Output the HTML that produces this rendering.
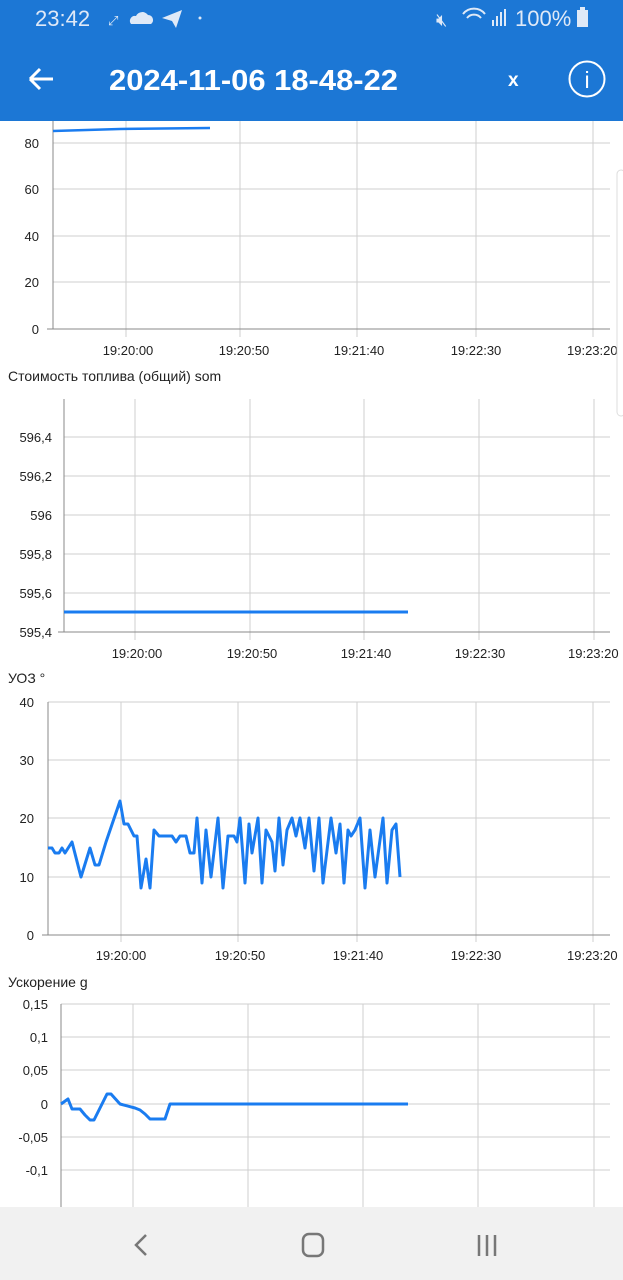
<!DOCTYPE html>
<html><head><meta charset="utf-8"><style>
html,body{margin:0;padding:0;width:623px;height:1280px;overflow:hidden;background:#fff;font-family:"Liberation Sans",sans-serif}
svg{display:block}
</style></head><body>
<svg width="623" height="1280" viewBox="0 0 623 1280" xmlns="http://www.w3.org/2000/svg" font-family="Liberation Sans, sans-serif">
<rect x="0" y="0" width="623" height="121" fill="#1c77d5"/>
<text x="35" y="26" fill="#dfe9f7" font-size="22">23:42</text>
<text x="108" y="25" fill="#dfe9f7" font-size="13">⤢</text>
<path d="M131 24 h20 a5 5 0 0 0 -3 -9 a7 7 0 0 0 -12 1 a5 5 0 0 0 -5 8z" fill="#dfe9f7"/>
<path d="M162 18 L182 10 L176 28 L172 21z" fill="#dfe9f7"/>
<circle cx="200" cy="18" r="1.5" fill="#dfe9f7"/>
<text x="436" y="26" fill="#dfe9f7" font-size="18">🔇︎</text>
<path d="M463 14 a14 14 0 0 1 22 0 M467 18 a9 9 0 0 1 14 0" stroke="#dfe9f7" stroke-width="2" fill="none"/>
<rect x="492" y="20" width="2" height="6" fill="#dfe9f7"/><rect x="496" y="16" width="2" height="10" fill="#dfe9f7"/><rect x="500" y="12" width="2" height="14" fill="#dfe9f7"/><rect x="504" y="9" width="2" height="17" fill="#dfe9f7"/>
<text x="515" y="26" fill="#dfe9f7" font-size="22">100%</text>
<rect x="577" y="10" width="11" height="17" fill="#dfe9f7"/><rect x="580" y="7" width="5" height="3" fill="#dfe9f7"/>
<path d="M30 79 H53 M30 79 L40 69 M30 79 L40 89" stroke="#fff" stroke-width="3" fill="none"/>
<text x="109" y="90" fill="#fff" font-size="29" font-weight="bold" textLength="289" lengthAdjust="spacingAndGlyphs">2024-11-06 18-48-22</text>
<text x="508" y="86" fill="#fff" font-size="19" font-weight="bold">x</text>
<circle cx="587" cy="79" r="17.5" stroke="#fff" stroke-width="2" fill="none"/>
<text x="587" y="88" fill="#fff" font-size="23" text-anchor="middle">i</text>

<g font-size="13" fill="#222">
<g stroke="#cfcfcf" stroke-width="1">
<line x1="53" y1="143" x2="610" y2="143"/><line x1="53" y1="189" x2="610" y2="189"/><line x1="53" y1="236" x2="610" y2="236"/><line x1="53" y1="282" x2="610" y2="282"/>
<line x1="126" y1="121" x2="126" y2="337"/><line x1="240" y1="121" x2="240" y2="337"/><line x1="357" y1="121" x2="357" y2="337"/><line x1="476" y1="121" x2="476" y2="337"/><line x1="593" y1="121" x2="593" y2="337"/>
</g>
<line x1="53" y1="121" x2="53" y2="329" stroke="#888"/><line x1="47" y1="329" x2="610" y2="329" stroke="#888"/>
<text x="39" y="148" text-anchor="end">80</text><text x="39" y="194" text-anchor="end">60</text><text x="39" y="241" text-anchor="end">40</text><text x="39" y="287" text-anchor="end">20</text><text x="39" y="334" text-anchor="end">0</text>
<text x="128" y="355" text-anchor="middle">19:20:00</text><text x="244" y="355" text-anchor="middle">19:20:50</text><text x="359" y="355" text-anchor="middle">19:21:40</text><text x="476" y="355" text-anchor="middle">19:22:30</text><text x="567" y="355">19:23:20</text>
<path d="M53 131 L120 129 L210 128" stroke="#1a7cf0" stroke-width="2.5" fill="none"/>

<text x="8" y="381" font-size="14">Стоимость топлива (общий)  som</text>
<g stroke="#cfcfcf">
<line x1="64" y1="437" x2="610" y2="437"/><line x1="64" y1="476" x2="610" y2="476"/><line x1="64" y1="515" x2="610" y2="515"/><line x1="64" y1="554" x2="610" y2="554"/><line x1="64" y1="593" x2="610" y2="593"/>
<line x1="135" y1="399" x2="135" y2="640"/><line x1="250" y1="399" x2="250" y2="640"/><line x1="364" y1="399" x2="364" y2="640"/><line x1="479" y1="399" x2="479" y2="640"/><line x1="594" y1="399" x2="594" y2="640"/>
</g>
<line x1="64" y1="399" x2="64" y2="632" stroke="#888"/><line x1="58" y1="632" x2="610" y2="632" stroke="#888"/>
<text x="52" y="442" text-anchor="end">596,4</text><text x="52" y="481" text-anchor="end">596,2</text><text x="52" y="520" text-anchor="end">596</text><text x="52" y="559" text-anchor="end">595,8</text><text x="52" y="598" text-anchor="end">595,6</text><text x="52" y="637" text-anchor="end">595,4</text>
<text x="137" y="658" text-anchor="middle">19:20:00</text><text x="252" y="658" text-anchor="middle">19:20:50</text><text x="366" y="658" text-anchor="middle">19:21:40</text><text x="480" y="658" text-anchor="middle">19:22:30</text><text x="568" y="658">19:23:20</text>
<line x1="64" y1="612" x2="408" y2="612" stroke="#1a7cf0" stroke-width="3"/>

<text x="8" y="683" font-size="14">УОЗ  °</text>
<g stroke="#cfcfcf">
<line x1="48" y1="702" x2="610" y2="702"/><line x1="48" y1="760" x2="610" y2="760"/><line x1="48" y1="818" x2="610" y2="818"/><line x1="48" y1="877" x2="610" y2="877"/>
<line x1="121" y1="702" x2="121" y2="942"/><line x1="238" y1="702" x2="238" y2="942"/><line x1="357" y1="702" x2="357" y2="942"/><line x1="476" y1="702" x2="476" y2="942"/><line x1="593" y1="702" x2="593" y2="942"/>
</g>
<line x1="48" y1="702" x2="48" y2="935" stroke="#888"/><line x1="42" y1="935" x2="610" y2="935" stroke="#888"/>
<text x="34" y="707" text-anchor="end">40</text><text x="34" y="765" text-anchor="end">30</text><text x="34" y="823" text-anchor="end">20</text><text x="34" y="882" text-anchor="end">10</text><text x="34" y="940" text-anchor="end">0</text>
<text x="121" y="960" text-anchor="middle">19:20:00</text><text x="240" y="960" text-anchor="middle">19:20:50</text><text x="358" y="960" text-anchor="middle">19:21:40</text><text x="476" y="960" text-anchor="middle">19:22:30</text><text x="567" y="960">19:23:20</text>
<polyline fill="none" stroke="#1a7cf0" stroke-width="3" stroke-linejoin="round" points="48,848 52,848 55,853 59,853 62,848 65,853 72,842 81,877 90,848 95,865 99,865 106,842 120,801 124,824 128,824 134,836 137,836 141,888 146,859 150,888 154,830 159,836 172,836 176,842 180,836 186,836 190,853 194,853 197,818 202,883 206,830 211,877 218,818 223,888 228,836 234,836 237,842 240,818 245,883 249,824 252,853 258,818 262,883 266,830 272,842 275,871 279,818 283,865 287,830 292,818 296,836 300,818 305,848 309,818 314,871 319,818 323,883 331,818 336,853 340,824 344,883 348,830 351,836 355,830 360,818 365,888 370,830 375,877 383,818 387,883 392,830 396,824 400,877"/>

<text x="8" y="987" font-size="14">Ускорение  g</text>
<g stroke="#cfcfcf">
<line x1="61" y1="1004" x2="610" y2="1004"/><line x1="61" y1="1037" x2="610" y2="1037"/><line x1="61" y1="1070" x2="610" y2="1070"/><line x1="61" y1="1104" x2="610" y2="1104"/><line x1="61" y1="1137" x2="610" y2="1137"/><line x1="61" y1="1170" x2="610" y2="1170"/>
<line x1="133" y1="1004" x2="133" y2="1207"/><line x1="248" y1="1004" x2="248" y2="1207"/><line x1="363" y1="1004" x2="363" y2="1207"/><line x1="478" y1="1004" x2="478" y2="1207"/><line x1="594" y1="1004" x2="594" y2="1207"/>
</g>
<line x1="61" y1="1004" x2="61" y2="1207" stroke="#888"/>
<text x="48" y="1009" text-anchor="end">0,15</text><text x="48" y="1042" text-anchor="end">0,1</text><text x="48" y="1075" text-anchor="end">0,05</text><text x="48" y="1109" text-anchor="end">0</text><text x="48" y="1142" text-anchor="end">-0,05</text><text x="48" y="1175" text-anchor="end">-0,1</text>
<polyline fill="none" stroke="#1a7cf0" stroke-width="3" stroke-linejoin="round" points="61,1104 68,1099 72,1109 80,1109 85,1115 90,1120 94,1120 100,1108 107,1094 111,1094 120,1104 135,1108 140,1110 145,1114 150,1119 160,1119 165,1119 170,1104 408,1104"/>
</g>
<rect x="617" y="170" width="8" height="246" rx="4" fill="none" stroke="#ddd"/>
<rect x="0" y="1207" width="623" height="73" fill="#f1f1f1"/>
<path d="M146 1235 L136 1245 L146 1255" stroke="#777" stroke-width="2.5" fill="none"/>
<rect x="303" y="1234" width="20" height="22" rx="6" stroke="#777" stroke-width="2.5" fill="none"/>
<path d="M479 1235 V1256 M487 1235 V1256 M495 1235 V1256" stroke="#777" stroke-width="2.5"/>
</svg>
</body></html>
